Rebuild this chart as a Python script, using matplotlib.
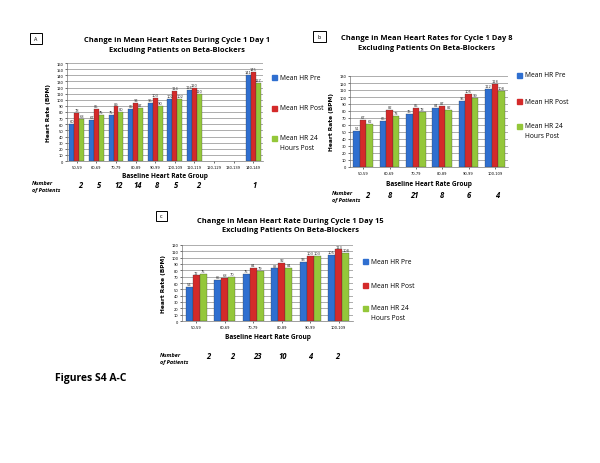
import matplotlib.pyplot as plt
import numpy as np
from matplotlib.patches import Rectangle

# Panel A - Cycle 1 Day 1
groups_a = ['50-59', '60-69', '70-79', '80-89', '90-99', '100-109', '110-119', '120-129', '130-139', '140-149']
pre_a = [60, 67, 75, 85, 95, 102, 116, np.nan, np.nan, 141]
post_a = [78, 85, 89, 94, 103, 114, 120, np.nan, np.nan, 145]
h24_a = [68, 75, 80, 87, 90, 102, 110, np.nan, np.nan, 127]
n_a = ['2', '5', '12', '14', '8', '5', '2', '', '', '1']

# Panel B - Cycle 1 Day 8
groups_b = ['50-59', '60-69', '70-79', '80-89', '90-99', '100-109']
pre_b = [51, 66, 76, 84, 95, 112]
post_b = [67, 82, 85, 87, 105, 118]
h24_b = [62, 73, 78, 82, 99, 108]
n_b = ['2', '8', '21', '8', '6', '4']

# Panel C - Cycle 1 Day 15
groups_c = ['50-59', '60-69', '70-79', '80-89', '90-99', '100-109']
pre_c = [54, 65, 75, 83, 93, 105]
post_c = [72, 68, 84, 92, 103, 113]
h24_c = [75, 70, 79, 84, 103, 108]
n_c = ['2', '2', '23', '10', '4', '2']

series_names = ['Mean HR Pre', 'Mean HR Post', 'Mean HR 24\nHours Post']
colors = ['#2f6fd0', '#d42a2a', '#94c73a']
FONT = 'Open Sans'

W, H = 600, 464
fig = plt.figure(figsize=(6, 4.64), dpi=100)


def fx(x):
    return x / W


def fy(y):
    return 1 - y / H


def panel(box, title_xy, title, tag, tagbox, groups, vals, ymax,
          leg_x, leg_ys, num_x, num_pos, num_labels, num_y, xlabel_y):
    l, t, r, b = box
    ax = fig.add_axes([fx(l), fy(b), fx(r - l), (b - t) / H])
    x = np.arange(len(groups))
    w = 0.25
    for i, v in enumerate(vals):
        v = np.array(v, dtype=float)
        ax.bar(x + (i - 1) * w, v, w, color=colors[i],
               edgecolor='#333333', linewidth=0.2, zorder=3)
        for xx, vv in zip(x + (i - 1) * w, v):
            if not np.isnan(vv):
                ax.text(xx, vv + ymax * 0.01, f'{vv:.0f}', ha='center', va='bottom',
                        fontsize=2.6, color='#333333', zorder=4)
    ax.set_xlim(-0.5, len(groups) - 0.5)
    ax.set_ylim(0, ymax)
    ax.set_yticks(np.arange(0, ymax + 1, 10))
    ax.yaxis.grid(True, color='#a0a0a0', linewidth=0.6, zorder=0)
    ax.set_xticks(x)
    ax.set_xticklabels(groups, fontsize=2.6)
    ax.tick_params(axis='y', labelsize=2.6, length=1.5, width=0.4, pad=1)
    ax.tick_params(axis='x', length=1.5, width=0.4, pad=1.5)
    for s in ['top', 'right']:
        ax.spines[s].set_visible(False)
    for s in ['left', 'bottom']:
        ax.spines[s].set_linewidth(0.5)
        ax.spines[s].set_color('#777777')
    ax.set_ylabel('Heart Rate (BPM)', fontsize=4.2, fontweight='bold', labelpad=4)

    fig.text(fx((l + r) / 2), fy(xlabel_y), 'Baseline Heart Rate Group', ha='center',
             va='center', fontsize=4.7, fontweight='bold', family=FONT)
    fig.text(fx(title_xy[0]), fy(title_xy[1]), title, ha='center', va='center',
             fontsize=5.4, fontweight='bold', family=FONT, linespacing=1.4)

    bx0, by0, bx1, by1 = tagbox
    fig.add_artist(Rectangle((fx(bx0), fy(by1)), fx(bx1 - bx0), (by1 - by0) / H,
                             transform=fig.transFigure, fill=False, linewidth=0.7,
                             edgecolor='black'))
    fig.text(fx((bx0 + bx1) / 2), fy((by0 + by1) / 2), tag, ha='center', va='center',
             fontsize=3.5)

    for name, c, ly in zip(series_names, colors, leg_ys):
        fig.add_artist(Rectangle((fx(leg_x), fy(ly + 2.5)), fx(5), 5 / H,
                                 transform=fig.transFigure, color=c))
        if '\n' in name:
            fig.text(fx(leg_x + 8), fy(ly - 4), name, ha='left', va='top',
                     fontsize=4.8, family=FONT, linespacing=1.7)
        else:
            fig.text(fx(leg_x + 8), fy(ly), name, ha='left', va='center',
                     fontsize=4.8, family=FONT)

    fig.text(fx(num_x), fy(num_y - 4), 'Number\nof Patients', ha='left', va='top',
             fontsize=4.0, style='italic', fontweight='bold', family=FONT, linespacing=1.5)
    for xx, s in zip(num_pos, num_labels):
        fig.text(fx(xx), fy(num_y), s, ha='center', va='center', fontsize=5.5,
                 style='italic', fontweight='bold', family=FONT)
    return ax


panel((67, 64, 263, 162), (177, 45.5),
      'Change in Mean Heart Rates During Cycle 1 Day 1\nExcluding Patients on Beta-Blockers',
      'A', (30, 34, 42, 45), groups_a, [pre_a, post_a, h24_a], 160,
      272, [78, 109, 139], 32, [80, 99, 119, 138, 157, 176, 198, 0, 0, 254], n_a, 185, 177)

panel((350, 77, 508, 168), (427, 43.5),
      'Change in Mean Heart Rates for Cycle 1 Day 8\nExcluding Patients On Beta-Blockers',
      'b', (313, 32, 326, 43), groups_b, [pre_b, post_b, h24_b], 130,
      517, [76, 102, 127], 332, [367, 390, 414, 442, 469, 497], n_b, 195, 184)

panel((182, 246, 353, 322), (290, 226.5),
      'Change in Mean Heart Rate During Cycle 1 Day 15\nExcluding Patients On Beta-Blockers',
      'c', (156, 212, 167, 222), groups_c, [pre_c, post_c, h24_c], 120,
      363, [262, 286, 309], 160, [208, 232, 257, 283, 310, 337], n_c, 357, 338)

fig.text(fx(55), fy(379), 'Figures S4 A-C', ha='left', va='center', fontsize=7.5,
         fontweight='bold', family=FONT)

fig.savefig('out.png', dpi=100, facecolor='white')
